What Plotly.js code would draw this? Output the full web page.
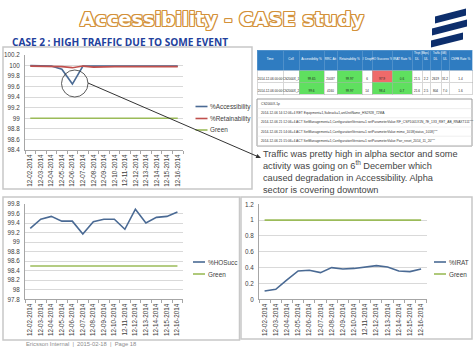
<!DOCTYPE html>
<html><head><meta charset="utf-8">
<script src="https://cdn.plot.ly/plotly-3.0.1.min.js"></script>
<style>html,body{margin:0;padding:0;background:#fff;}#chart{width:474px;height:355px;}</style>
</head><body><div id="chart"></div>
<script>
// ---- data ----
const dates = ['12-02-2014','12-03-2014','12-04-2014','12-05-2014','12-06-2014','12-07-2014','12-08-2014','12-09-2014','12-10-2014','12-11-2014','12-12-2014','12-13-2014','12-14-2014','12-15-2014','12-16-2014'];
const accessibility = [100, 100, 99.99, 99.93, 99.65, 99.99, 99.99, 99.99, 99.99, 99.99, 99.99, 99.99, 99.99, 99.99, 99.99];
const retainability = [99.99, 99.99, 99.99, 99.98, 99.96, 99.99, 99.97, 99.98, 99.98, 99.98, 99.98, 99.98, 99.98, 99.98, 99.98];
const greenTop = [99, 99, 99, 99, 99, 99, 99, 99, 99, 99, 99, 99, 99, 99, 99];
const hoSucc = [99.29, 99.48, 99.54, 99.44, 99.44, 99.17, 99.43, 99.48, 99.48, 99.27, 99.69, 99.40, 99.52, 99.54, 99.63];
const greenHo = [98.5, 98.5, 98.5, 98.5, 98.5, 98.5, 98.5, 98.5, 98.5, 98.5, 98.5, 98.5, 98.5, 98.5, 98.5];
const irat = [0.105, 0.126, 0.244, 0.358, 0.366, 0.337, 0.40, 0.383, 0.39, 0.41, 0.425, 0.408, 0.358, 0.35, 0.383];
const greenIrat = [1, 1, 1, 1, 1, 1, 1, 1, 1, 1, 1, 1, 1, 1, 1];

const tableHeaders = ['Time','Cell','Accessibility\u00a0%','RRC\u00a0Att','Retainability\u00a0%','#\u00a0Drop','HO\u00a0Success\u00a0%','IRAT\u00a0Rate\u00a0%','DL','UL','DL','UL','CSFB\u00a0Rate\u00a0%'];
const tableGroupHeaders = ['Thrpt (Mbps)', 'Traffic (GB)'];
const tableTime = ['2014-12-06\u00a000:00','2014-12-06\u00a000:00'];
const tableCell = ['CS2000X_1','CS2000X_2'];
const tableAcc = ['99.65','99.6'];
const tableRrc = ['20037','4160'];
const tableRet = ['99.97','99.97'];
const tableDrop = ['6','14'];
const tableHo = ['97.9','98.4'];
const tableIrat = ['0.6','0.7'];
const tableThDl = ['21.5','21.6'];
const tableThUl = ['2.2','2.5'];
const tableTrDl = ['2619','804'];
const tableTrUl = ['31.2','7.0'];
const tableCsfb = ['1.4','1.6'];

const logLines = [
 'CS2000X-1p',
 '2014-12-06 14:12:06+4 RET Equipment=1,Subrack=1,antUnitName_HS2928_72MA',
 '2014-12-06 21:12:06+4 ACT SetManagement=1,ConfigurationVersion=1 setParameterValue RF_CSP1001X1N_7E_1X3_RET_AB_RNAXT111"""',
 '2014-12-06 21:14:06+4 ACT SetManagement=1,ConfigurationVersion=1 setParameterValue mimo_1018(status_1018)"""',
 '2014-12-06 21:15:06+4 ACT SetManagement=1,ConfigurationVersion=1 setParameterValue Pwr_reset_2014_11_20"""'
];

// ---- helpers ----
const W = 474, H = 355;
const X = v => v / W;
const Y = v => 1 - v / H;
const BLUE = '#4a6a94', RED = '#c0504d', GREEN = '#9bbb59';
const tickFont = {family: 'Liberation Sans, Arial, sans-serif', size: 6.3, color: '#404040'};

function line(xs, ys, xa, ya, color, w) {
  return {type: 'scatter', mode: 'lines', x: xs, y: ys, xaxis: xa, yaxis: ya,
    line: {color: color, width: w}, showlegend: false, hoverinfo: 'skip'};
}

const traces = [
  line(dates, greenTop, 'x', 'y', GREEN, 1.5),
  line(dates, accessibility, 'x', 'y', BLUE, 1.6),
  line(dates, retainability, 'x', 'y', RED, 1.6),
  line(dates, greenHo, 'x2', 'y2', GREEN, 1.6),
  line(dates, hoSucc, 'x2', 'y2', BLUE, 1.6),
  line(dates, greenIrat, 'x3', 'y3', GREEN, 1.6),
  line(dates, irat, 'x3', 'y3', BLUE, 1.6),
];

const W1 = '#ffffff', G1 = '#5fe05f', R1 = '#ef6a6a';
const tblFont = {family: 'Liberation Sans Narrow, Liberation Sans, sans-serif', size: 3.1};
const colW = [26, 16, 25, 13, 25, 10, 20, 20, 10, 8, 11, 8, 23];
traces.push({
  type: 'table',
  domain: {x: [X(257), X(472)], y: [Y(97), Y(50)]},
  columnwidth: colW,
  header: {values: tableHeaders, height: 20, fill: {color: '#2f7cc1'},
    line: {color: '#6fa3d4', width: 0.5}, align: 'center',
    font: Object.assign({color: '#ffffff'}, tblFont)},
  cells: {values: [tableTime, tableCell, tableAcc, tableRrc, tableRet, tableDrop, tableHo, tableIrat, tableThDl, tableThUl, tableTrDl, tableTrUl, tableCsfb],
    height: 12, align: 'center',
    fill: {color: [[W1,W1],[W1,W1],[G1,G1],[W1,W1],[G1,G1],[W1,W1],[R1,G1],[G1,G1],[W1,W1],[W1,W1],[W1,W1],[W1,W1],[W1,W1]]},
    line: {color: '#b0b0b0', width: 0.5},
    font: Object.assign({color: '#222'}, tblFont)},
  hoverinfo: 'skip'
});

function yax(domTop, domBot, range, dtick) {
  return {domain: [Y(domBot), Y(domTop)], range: range, dtick: dtick, tick0: 0,
    showgrid: true, gridcolor: '#d9d9d9', gridwidth: 1, zeroline: false,
    showline: true, linecolor: '#a6a6a6', linewidth: 1, ticks: '',
    tickfont: tickFont, ticklabelstandoff: 3, fixedrange: true};
}
function xax(l, r, anchor) {
  return {domain: [X(l), X(r)], anchor: anchor, type: 'category', range: [-0.5, 14.5],
    showgrid: false, zeroline: false, showline: true, linecolor: '#a6a6a6', linewidth: 1,
    ticks: 'outside', tickson: 'boundaries', ticklen: 3, tickcolor: '#a6a6a6',
    tickangle: -90, tickfont: tickFont, ticklabelstandoff: 1, fixedrange: true};
}

const shapes = [];
const annotations = [];
function rect(x0, y0, x1, y1, color, w, fill) {
  shapes.push({type: 'rect', xref: 'paper', yref: 'paper', x0: X(x0), x1: X(x1), y0: Y(y0), y1: Y(y1),
    line: {color: color, width: w}, fillcolor: fill || 'rgba(0,0,0,0)', layer: 'below'});
}
// chart frames
rect(3, 47, 252, 189, '#c8c8c8', 1.5);
rect(3, 197, 239.5, 340, '#c8c8c8', 1.5);
rect(241, 197, 472, 339, '#c8c8c8', 1.5);
// table group headers
let cx = 257;
const colX = colW.map(w => { const s = cx; cx += w; return s; });
const grpFont = {family: 'Liberation Sans Narrow, Liberation Sans, sans-serif', size: 2.6, color: '#ffffff'};
annotations.push({xref: 'paper', yref: 'paper', x: X((colX[8] + colX[10]) / 2), y: Y(52.5), xanchor: 'center', yanchor: 'middle',
  text: tableGroupHeaders[0], showarrow: false, font: grpFont});
annotations.push({xref: 'paper', yref: 'paper', x: X((colX[10] + colX[12]) / 2), y: Y(52.5), xanchor: 'center', yanchor: 'middle',
  text: tableGroupHeaders[1], showarrow: false, font: grpFont});
// log box
rect(257, 99, 472, 146, '#9a9a9a', 1, '#ffffff');
logLines.forEach((t, i) => {
  annotations.push({xref: 'paper', yref: 'paper', x: X(259), y: Y(104 + i * 9.2), xanchor: 'left', yanchor: 'middle',
    text: t, showarrow: false, font: {family: 'Liberation Sans Narrow, Liberation Sans, sans-serif', size: 3.3, color: '#333'}});
});
for (let i = 0; i < 5; i++) {
  shapes.push({type: 'line', xref: 'paper', yref: 'paper', x0: X(257), x1: X(472), y0: Y(108.6 + i * 9.2), y1: Y(108.6 + i * 9.2),
    line: {color: '#dddddd', width: 0.5}});
}

// manual legends
function legendItem(x, y, color, label) {
  shapes.push({type: 'line', xref: 'paper', yref: 'paper', x0: X(x), x1: X(x + 12), y0: Y(y), y1: Y(y),
    line: {color: color, width: 1.6}});
  annotations.push({xref: 'paper', yref: 'paper', x: X(x + 12.5), y: Y(y), xanchor: 'left', yanchor: 'middle',
    text: label, showarrow: false, font: {family: 'Liberation Sans, Arial, sans-serif', size: 6.4, color: '#404040'}});
}
legendItem(195.5, 106.5, BLUE, '%Accessibility');
legendItem(195.5, 118.5, RED, '%Retainability');
legendItem(195.5, 130, GREEN, 'Green');
legendItem(193, 262, BLUE, '%HOSucc');
legendItem(193, 274, GREEN, 'Green');
legendItem(434, 262, BLUE, '%IRAT');
legendItem(434, 274, GREEN, 'Green');

// circle around the dip
shapes.push({type: 'circle', xref: 'paper', yref: 'paper', x0: X(61.5), x1: X(88), y0: Y(97), y1: Y(70),
  line: {color: '#333333', width: 0.8}});
// arrow (line + head) to the comment
const tip = [261, 158], tail = [88, 83];
shapes.push({type: 'line', xref: 'paper', yref: 'paper', x0: X(tail[0]), y0: Y(tail[1]), x1: X(tip[0] - 2), y1: Y(tip[1] - 0.9),
  line: {color: '#333333', width: 1}});
(function () {
  const dx = tip[0] - tail[0], dy = tip[1] - tail[1], L = Math.hypot(dx, dy);
  const ux = dx / L, uy = dy / L, len = 5, hw = 2.2;
  const bx = tip[0] - ux * len, by = tip[1] - uy * len;
  const p = [[tip[0], tip[1]], [bx - uy * hw, by + ux * hw], [bx + uy * hw, by - ux * hw]];
  shapes.push({type: 'path', xref: 'paper', yref: 'paper',
    path: 'M' + p.map(q => X(q[0]) + ',' + Y(q[1])).join(' L') + ' Z', fillcolor: '#333333', line: {width: 0}});
})();
// comment text
annotations.push({xref: 'paper', yref: 'paper', x: X(261), y: Y(146.5), xanchor: 'left', yanchor: 'top', align: 'left',
  text: 'Traffic was pretty high in alpha sector and some<br>activity was going on 6<sup>th</sup> December which<br>caused degradation in Accessibility. Alpha<br>sector is covering downtown',
  showarrow: false, font: {family: 'Liberation Sans, Arial, sans-serif', size: 9.2, color: '#444444'}});

// title
const OR = '#d3913a';
annotations.push({xref: 'paper', yref: 'paper', x: X(222), y: Y(19), xanchor: 'center', yanchor: 'middle',
  text: 'Accessibility - CASE study', showarrow: false,
  font: {family: 'DejaVu Sans, sans-serif', size: 19.5, color: '#ffffff', weight: 'bold',
    shadow: `1px 0 0 ${OR}, -1px 0 0 ${OR}, 0 1px 0 ${OR}, 0 -1px 0 ${OR}, 1px 1px 0 ${OR}, -1px -1px 0 ${OR}, 1px -1px 0 ${OR}, -1px 1px 0 ${OR}`}});
// subtitle
annotations.push({xref: 'paper', yref: 'paper', x: X(10), y: Y(42), xanchor: 'left', yanchor: 'middle',
  text: '<b>CASE 2 : HIGH TRAFFIC DUE TO SOME EVENT</b>', showarrow: false,
  font: {family: 'Open Sans, sans-serif', size: 10.1, color: '#22409c'}});
// footer
annotations.push({xref: 'paper', yref: 'paper', x: X(24), y: Y(343.5), xanchor: 'left', yanchor: 'middle',
  text: 'Ericsson Internal  |  2015-02-18  |  Page 18', showarrow: false,
  font: {family: 'Liberation Sans, Arial, sans-serif', size: 5.8, color: '#8c8c8c'}});

// Ericsson logo: three slanted bars
function bar(x1, y1, x2, y2, t) {
  const p = [[x1, y1 - t / 2], [x2, y2 - t / 2], [x2, y2 + t / 2], [x1, y1 + t / 2]];
  const d = 'M' + p.map(q => X(q[0]) + ',' + Y(q[1])).join(' L') + ' Z';
  shapes.push({type: 'path', xref: 'paper', yref: 'paper', path: d, fillcolor: '#0d2e6c', line: {width: 0}});
}
bar(435, 20, 466, 12, 7);
bar(432, 32, 467, 23, 7);
bar(431, 44, 463, 36, 7);

const layout = {
  width: W, height: H, margin: {l: 0, r: 0, t: 0, b: 0},
  paper_bgcolor: '#ffffff', plot_bgcolor: 'rgba(0,0,0,0)', showlegend: false,
  xaxis: xax(25, 183, 'y'),
  yaxis: yax(55, 150, [98.4, 100.2], 0.2),
  xaxis2: xax(25, 182.7, 'y2'),
  yaxis2: Object.assign(yax(204, 299.3, [97.8, 99.8], 0.2), {anchor: 'x2'}),
  xaxis3: xax(259, 426.7, 'y3'),
  yaxis3: Object.assign(yax(204.3, 299.3, [0, 1.2], 0.2), {anchor: 'x3'}),
  shapes: shapes, annotations: annotations,
  font: {family: 'Liberation Sans, Arial, sans-serif'}
};
layout.yaxis.anchor = 'x';
Plotly.newPlot('chart', traces, layout, {displayModeBar: false, staticPlot: true});
</script></body></html>
